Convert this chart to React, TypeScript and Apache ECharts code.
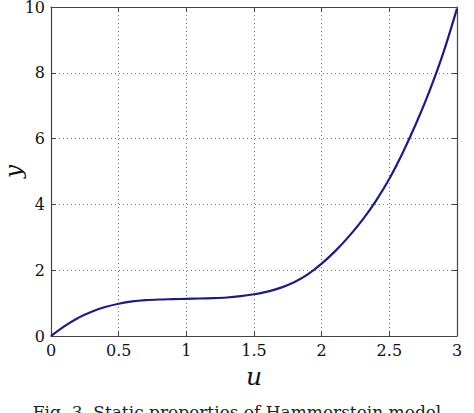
import { useEffect, useRef } from 'react';
import * as echarts from 'echarts';

// static characteristic
const uVals = [0, 0.1, 0.2, 0.3, 0.4, 0.5, 0.6, 0.7, 0.8, 0.9, 1.0, 1.1, 1.2, 1.3, 1.4, 1.5, 1.6, 1.7, 1.8, 1.9, 2.0, 2.1, 2.2, 2.3, 2.4, 2.5, 2.6, 2.7, 2.8, 2.9, 3.0];
const yVals = [0, 0.3, 0.55, 0.74, 0.88, 0.98, 1.05, 1.09, 1.11, 1.12, 1.13, 1.14, 1.15, 1.17, 1.21, 1.27, 1.35, 1.47, 1.64, 1.88, 2.2, 2.58, 3.02, 3.52, 4.1, 4.78, 5.58, 6.48, 7.48, 8.62, 9.95];

const X_TICK_STEP = 0.5;
const Y_TICK_STEP = 2;
const CAPTION = 'Fig. 3. Static properties of Hammerstein model';

const SERIF = 'DejaVu Serif';
const AXIS_COLOR = '#444';

export default function App() {
  const ref = useRef<HTMLDivElement | null>(null);

  useEffect(() => {
    document.body.style.margin = '0';
    if (!ref.current) return;
    const chart = echarts.init(ref.current, undefined, { renderer: 'svg' });

    const tickLabel = { color: '#111', fontSize: 16, fontFamily: SERIF };
    const boxAxis = {
      axisLine: { show: true, onZero: false, lineStyle: { color: AXIS_COLOR, width: 1.2 } },
      axisTick: { show: true, inside: true, length: 5, lineStyle: { color: AXIS_COLOR } },
    };
    const dotted = { show: true, lineStyle: { color: '#777', type: [1, 3], width: 1 } };

    chart.setOption({
      animation: false,
      grid: { left: 51, right: 17, top: 7, bottom: 77, containLabel: false, outerBoundsMode: 'none' },
      xAxis: [
        {
          type: 'value',
          min: 0,
          max: 3,
          interval: X_TICK_STEP,
          ...boxAxis,
          axisLabel: { ...tickLabel, margin: 6 },
          splitLine: dotted,
          name: 'u',
          nameLocation: 'middle',
          nameGap: 28,
          nameMoveOverlap: false,
          nameTextStyle: { fontFamily: SERIF, fontStyle: 'italic', fontSize: 25, color: '#111' },
        },
        {
          type: 'value',
          position: 'top',
          min: 0,
          max: 3,
          interval: X_TICK_STEP,
          ...boxAxis,
          axisLabel: { show: false },
          splitLine: { show: false },
        },
      ],
      yAxis: [
        {
          type: 'value',
          min: 0,
          max: 10,
          interval: Y_TICK_STEP,
          ...boxAxis,
          axisLabel: { ...tickLabel, margin: 6 },
          splitLine: dotted,
          name: 'y',
          nameLocation: 'middle',
          nameGap: 27,
          nameMoveOverlap: false,
          nameRotate: 90,
          nameTextStyle: { fontFamily: SERIF, fontStyle: 'italic', fontSize: 23, color: '#111' },
        },
        {
          type: 'value',
          position: 'right',
          min: 0,
          max: 10,
          interval: Y_TICK_STEP,
          ...boxAxis,
          axisLabel: { show: false },
          splitLine: { show: false },
        },
      ],
      graphic: [
        {
          type: 'text',
          left: 'center',
          top: 403,
          style: { text: CAPTION, fontFamily: SERIF, fontSize: 17, fill: '#222' },
        },
      ],
      series: [
        {
          type: 'line',
          data: uVals.map((u, i) => [u, yVals[i]]),
          smooth: 0.3,
          showSymbol: false,
          lineStyle: { color: '#1b1f7a', width: 2.2 },
        },
      ],
    });

    return () => chart.dispose();
  }, []);

  return <div ref={ref} style={{ width: 474, height: 413 }} />;
}
